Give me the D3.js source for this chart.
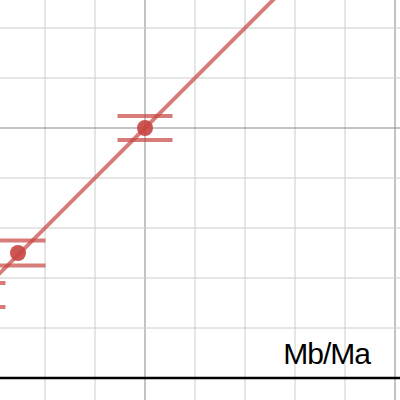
<!DOCTYPE html><html><head><script src="https://d3js.org/d3.v7.min.js"></script>
<style>body{margin:0}svg{display:block}</style></head><body><script>
const xs=[1.66,2.46,5];
const ys=[1.66,2.5,5];
const errs=[0.24,0.25,0.24];
const lineX=[-5,12];
const label="Mb/Ma";
const W=400,H=400;
const x=d3.scaleLinear().domain([2.1,10.1]).range([0,400]);
const y=d3.scaleLinear().domain([0,8]).range([378,-22]);
const svg=d3.select("body").append("svg").attr("width",W).attr("height",H);
svg.append("rect").attr("width",W).attr("height",H).attr("fill","#fff");
const gx=d3.range(3,11,1),gy=d3.range(1,8,1);
gx.forEach(v=>svg.append("line").attr("x1",x(v)).attr("x2",x(v)).attr("y1",0).attr("y2",H)
 .attr("stroke",v%5===0?"#888":"#ccc").attr("stroke-width",1));
gy.forEach(v=>svg.append("line").attr("y1",y(v)).attr("y2",y(v)).attr("x1",0).attr("x2",W)
 .attr("stroke",v%5===0?"#888":"#ccc").attr("stroke-width",1));
svg.append("line").attr("x1",0).attr("x2",W).attr("y1",y(0)).attr("y2",y(0)).attr("stroke","#000").attr("stroke-width",2.5);
const c="#c74440";
svg.append("line").attr("x1",x(lineX[0])).attr("y1",y(lineX[0])).attr("x2",x(lineX[1])).attr("y2",y(lineX[1]))
 .attr("stroke",c).attr("stroke-width",4).attr("stroke-opacity",0.7);
xs.forEach((v,i)=>{
 const g=svg.append("g").attr("stroke",c).attr("stroke-width",4).attr("stroke-opacity",0.7);
 [ys[i]-errs[i],ys[i]+errs[i]].forEach(e=>g.append("line").attr("x1",x(v-0.55)).attr("x2",x(v+0.55)).attr("y1",y(e)).attr("y2",y(e)));
 svg.append("circle").attr("cx",x(v)).attr("cy",y(ys[i])).attr("r",8).attr("fill",c).attr("fill-opacity",0.9);
});
svg.append("text").attr("x",370).attr("y",364).attr("text-anchor","end").attr("font-family","Liberation Sans, Arial").attr("font-size",30).attr("letter-spacing",-1).text(label);
</script></body></html>
